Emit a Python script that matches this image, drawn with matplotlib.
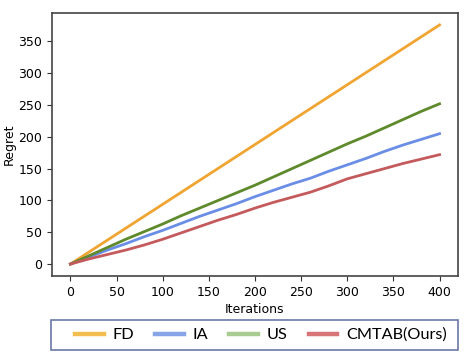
import matplotlib
matplotlib.use("Agg")
import matplotlib.pyplot as plt
from matplotlib.lines import Line2D
from matplotlib.patches import Rectangle

iters = [0, 20, 40, 60, 80, 100, 120, 140, 160, 180, 200, 220, 240, 260, 280, 300, 320, 340, 360, 380, 400]
fd = [0, 18.8, 37.6, 56.4, 75.2, 94, 112.8, 131.6, 150.4, 169.2, 188, 206.8, 225.6, 244.4, 263.2, 282, 300.8, 319.6, 338.4, 357.2, 376]
ia = [0, 11, 22, 32, 43, 53, 64, 75, 85, 95, 106, 116, 126, 135, 146, 156, 166, 177, 187, 196, 205]
us = [0, 13, 26, 39, 51, 63, 76, 88, 100, 112, 124, 137, 150, 163, 176, 189, 201, 214, 227, 240, 252]
cmtab = [0, 8, 15, 22, 30, 39, 49, 59, 69, 78, 88, 97, 105, 113, 123, 134, 142, 150, 158, 165, 172]

labels = ["FD", "IA", "US", "CMTAB(Ours)"]
xticks = [0, 50, 100, 150, 200, 250, 300, 350, 400]
yticks = [0, 50, 100, 150, 200, 250, 300, 350]
line_colors = ["#f0a431", "#6a8ee6", "#5e8a2c", "#c45a5c"]
legend_colors = ["#f2be50", "#86a4e6", "#a8cc92", "#d77478"]

W, H = 474, 358
fig = plt.figure(figsize=(W / 100, H / 100), dpi=100)
ax = fig.add_axes([52 / W, 1 - 276 / H, 406 / W, 263 / H])
for y, c in zip([fd, ia, us, cmtab], line_colors):
    ax.plot(iters, y, color=c, lw=2)

ax.set_xticks(xticks)
ax.set_yticks(yticks)
ax.tick_params(labelsize=9, color="#333333")
ax.set_xlabel("Iterations", fontsize=9, labelpad=3)
ax.set_ylabel("Regret", fontsize=9, labelpad=2)
for s in ax.spines.values():
    s.set_color("#444444")
    s.set_linewidth(1.2)

# legend frame
fig.add_artist(Rectangle((50.5 / W, 1 - 350 / H), 407.5 / W, 30 / H,
                         transform=fig.transFigure, fill=False,
                         edgecolor="#6a78a8", lw=1.2))
handles = [Line2D([0], [0], color=c, lw=3.2) for c in legend_colors]
leg = fig.legend(handles, labels, ncol=4, loc="center",
                 bbox_to_anchor=(261 / W, 1 - 335 / H),
                 prop={"family": ["Lato", "DejaVu Sans"], "size": 11.7},
                 frameon=False, handlelength=1.75, borderaxespad=0,
                 columnspacing=1.3, handletextpad=0.55)

fig.savefig("out.png", dpi=100)
